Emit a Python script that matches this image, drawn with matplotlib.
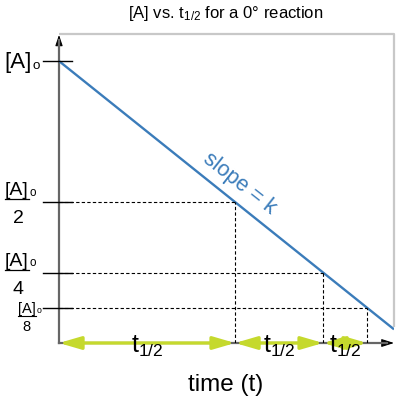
import matplotlib
matplotlib.use("Agg")
import matplotlib.pyplot as plt
from matplotlib import transforms
from matplotlib.patches import FancyArrowPatch, ArrowStyle

# ---------------- data ----------------
levels = [1.0, 0.5, 0.25, 0.125]          # [A] / [A]0 at each half-life
times = [0.0, 1.0, 1.5, 1.75]             # time (in units of the first t1/2)
denominators = ["", "2", "4", "8"]
line_t = [0.0, 1.903]                     # straight zero-order line
line_A = [1.0, 0.0485]
interval_label = "t$_{1/2}$"
title_text = "[A] vs. t$_{1/2}$ for a 0° reaction"
xlabel_text = "time (t)"
slope_text = "slope = k"
num_text = "[A]"
sub_text = "o"

# ---------------- style ----------------
plt.rcParams["font.family"] = ["Liberation Sans", "DejaVu Sans"]
plt.rcParams["mathtext.fontset"] = "custom"
plt.rcParams["mathtext.rm"] = "Liberation Sans"
plt.rcParams["mathtext.it"] = "Liberation Sans:italic"
plt.rcParams["mathtext.default"] = "regular"

BLUE = "#3b7cba"
GREEN = "#c5d92d"
AXGRAY = "#666666"
LIGHT = "#c8c8c8"

W, H = 398, 405
fig = plt.figure(figsize=(W / 100, H / 100), dpi=100)
ax = fig.add_axes([59 / W, 62 / H, 335 / W, 309 / H])
ax.set_xlim(0, line_t[1])
ax.set_ylim(0, 1.096)
ax.axis("off")
renderer = fig.canvas.get_renderer()

# frame: light top/right border
ax.plot([0, 1, 1], [1, 1, 0.052], transform=ax.transAxes, color=LIGHT,
        lw=1.6, clip_on=False, solid_capstyle="butt")

# y axis with arrow
ax.plot([0, 0], [0, 0.98], transform=ax.transAxes, color=AXGRAY, lw=1.6,
        clip_on=False)
ax.add_patch(FancyArrowPatch((0, 0.96), (0, 0.997), transform=ax.transAxes,
                             arrowstyle=ArrowStyle("-|>", head_length=6.5, head_width=2.2),
                             mutation_scale=1, color="black", lw=0.8,
                             shrinkA=0, shrinkB=0, clip_on=False))
# x axis with arrow
ax.plot([0, 0.98], [0, 0], transform=ax.transAxes, color=AXGRAY, lw=1.6,
        clip_on=False)
ax.add_patch(FancyArrowPatch((0.95, 0), (1.0, 0), transform=ax.transAxes,
                             arrowstyle=ArrowStyle("-|>", head_length=7.5, head_width=2.4),
                             mutation_scale=1, color="black", lw=0.8,
                             shrinkA=0, shrinkB=0, clip_on=False))

# zero-order line
ax.plot(line_t, line_A, color=BLUE, lw=1.7, solid_capstyle="butt")

# dashed guides
for t, A in zip(times[1:], levels[1:]):
    ax.plot([0, t], [A, A], color="black", lw=0.8, dashes=(3, 2))
    ax.plot([t, t], [0, A], color="black", lw=0.8, dashes=(3, 2))

# tick marks crossing the y axis
ytr = ax.get_yaxis_transform()
for A in levels:
    ax.plot([-16 / 335, 13 / 335], [A, A], transform=ytr, color="black",
            lw=1.0, clip_on=False)

# green double arrows for each half-life
for t0, t1 in zip(times[:-1], times[1:]):
    ax.add_patch(FancyArrowPatch((t0, 0), (t1, 0),
                                 arrowstyle=ArrowStyle("<|-|>", head_length=13, head_width=3.8),
                                 mutation_scale=1, color=GREEN, lw=2.4,
                                 shrinkA=0, shrinkB=0, clip_on=False, zorder=3))
    ax.annotate(interval_label, xy=((t0 + t1) / 2, 0), xytext=(0, -10),
                textcoords="offset pixels", ha="center", va="baseline",
                fontsize=18, zorder=4)

# y labels
blend = transforms.blended_transform_factory(fig.transFigure, ax.transData)


def off(dy, dx=0):
    return transforms.offset_copy(blend, fig=fig, x=dx, y=dy, units="dots")


def numerator(x_px, A, dy, size):
    t = fig.text(x_px / W, A, num_text, transform=off(dy), ha="left",
                 va="baseline", fontsize=size)
    ext = t.get_window_extent(renderer)
    fig.text(ext.x1 / W, A, sub_text, transform=off(dy - 0.07 * size, 1),
             ha="left", va="baseline", fontsize=size * 0.6)
    return ext


for A, den in zip(levels, denominators):
    if den == "":
        numerator(4, A, -7, 16)
    elif den == "8":
        ext = numerator(18, A, -5, 10.5)
        fig.add_artist(plt.Line2D([18 / W, ext.x1 / W], [A, A], transform=off(-8),
                                  color="black", lw=0.8))
        fig.text(26 / W, A, den, transform=off(-23), ha="center",
                 va="baseline", fontsize=10.5)
    else:
        ext = numerator(5, A, 7, 14)
        fig.add_artist(plt.Line2D([5 / W, ext.x1 / W], [A, A], transform=off(3),
                                  color="black", lw=0.9))
        fig.text(18 / W, A, den, transform=off(-21), ha="center",
                 va="baseline", fontsize=14)

# slope label
ax.annotate(slope_text, xy=(1.023, 0.4885), xytext=(0, 22),
            textcoords="offset pixels", ha="center", va="center",
            rotation=-38.2, rotation_mode="anchor", color=BLUE, fontsize=15.5)

# title and x label
fig.text(226 / W, 1 - 18 / H, title_text, ha="center", va="baseline",
         fontsize=12)
fig.text(226 / W, 1 - 391 / H, xlabel_text, ha="center", va="baseline",
         fontsize=17.5)

fig.savefig("out.png", dpi=100)
